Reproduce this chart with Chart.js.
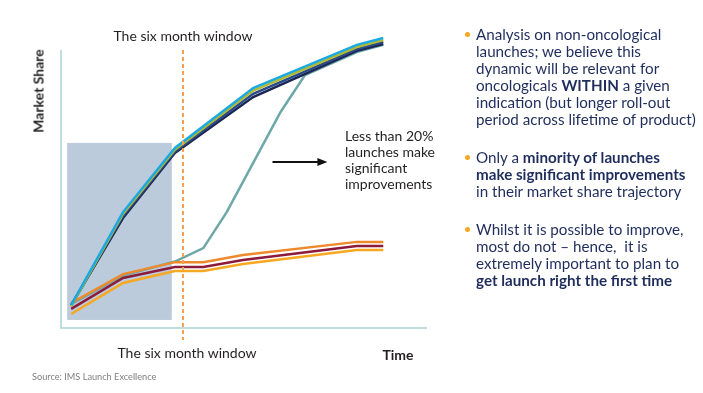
<!DOCTYPE html>
<html lang="en">
<head>
<meta charset="UTF-8">
<title>Launch trajectories</title>
<script src="https://cdn.jsdelivr.net/npm/chart.js"></script>
<style>
    body {
        margin: 0;
        background: #fff;
        font-family: Lato, 'Open Sans', sans-serif;
    }
    .wrap {
        position: relative;
        width: 703px;
        height: 393px;
    }
    canvas { position: absolute; left: 0; top: 0; }
    .lbl { position: absolute; color: #231f20; white-space: nowrap; }
    .ylab {
        left: 38px; top: 91px;
        font-weight: bold; font-size: 14px;
        transform: translate(-50%, -50%) rotate(-90deg);
    }
    .win { font-size: 14px; transform: translateX(-50%); }
    .note { left: 345px; top: 128px; font-size: 14px; line-height: 16px; }
    .time { left: 398px; top: 346px; font-weight: bold; font-size: 14px; transform: translateX(-50%); }
    .src { left: 32px; top: 371px; font-size: 9.2px; color: #808080; }
    .bullets {
        position: absolute; left: 476px; top: 26px; width: 240px;
        color: #1f2d5c; font-size: 15.2px; line-height: 17px;
        white-space: nowrap;
    }
    .bullets p { margin: 0 0 21px 0; position: relative; }
    .bullets p::before {
        content: ''; position: absolute; left: -11px; top: 6px;
        width: 5px; height: 5px; border-radius: 50%; background: #f5a623;
    }
</style>
</head>
<body>
<div class="wrap">
    <canvas id="chart" width="703" height="393"></canvas>
    <div class="lbl ylab">Market Share</div>
    <div class="lbl win" style="left:183px; top:27px;">The six month window</div>
    <div class="lbl win" style="left:187px; top:344px;">The six month window</div>
    <div class="lbl note">Less than 20%<br>launches make<br>significant<br>improvements</div>
    <div class="lbl time">Time</div>
    <div class="lbl src">Source: IMS Launch Excellence</div>
    <div class="bullets">
        <p>Analysis on non-oncological<br>launches; we believe this<br>dynamic will be relevant for<br>oncologicals <b>WITHIN</b> a given<br>indication (but longer roll-out<br>period across lifetime of product)</p>
        <p>Only a <b>minority of launches<br>make significant improvements</b><br>in their market share trajectory</p>
        <p>Whilst it is possible to improve,<br>most do not &ndash; hence,&nbsp; it is<br>extremely important to plan to<br><b>get launch right the first time</b></p>
    </div>
</div>

<script>
    // time in months, market share in arbitrary %
    const upperMonths = [0.5, 3.05, 5.6, 9.45, 14.55, 15.85];
    const cyanShare   = [7.7, 38.9, 60.4, 80.5, 95.0, 97.3];
    const oliveShare  = [7.3, 38.3, 59.8, 79.7, 94.3, 96.6];
    const blueShare   = [7.5, 37.6, 59.2, 78.6, 93.6, 96.0];
    const navyShare   = [7.7, 36.9, 58.7, 77.5, 93.0, 95.3];

    const lowerMonths  = [0.5, 3.05, 5.6, 7.0, 8.95, 14.55, 15.85];
    const orangeShare  = [8.4, 18.1, 22.1, 22.1, 24.5, 28.9, 28.9];
    const redShare     = [6.4, 16.8, 20.5, 20.5, 22.8, 27.5, 27.5];
    const goldShare    = [4.7, 15.1, 19.1, 19.1, 21.5, 26.2, 26.2];

    const tealMonths = [0.5, 3.05, 5.6, 7.0, 8.15, 10.8, 12.0, 14.55, 15.85];
    const tealShare  = [8.0, 17.6, 22.3, 26.8, 38.9, 72.5, 84.9, 92.6, 95.0];

    const windowMonths = 6;          // dashed marker
    const boxMonths = [0.3, 5.45];   // shaded early window
    const boxShare = [2.7, 62.1];
    const arrowMonths = [10.4, 13.1];
    const arrowShare = 55.7;
    const axisTopShare = 93.3;

    function pts(xs, ys) {
        return xs.map((x, i) => ({ x: x, y: ys[i] }));
    }
    function line(xs, ys, color) {
        return {
            data: pts(xs, ys),
            borderColor: color,
            borderWidth: 2.5,
            pointRadius: 0,
            tension: 0,
            fill: false
        };
    }

    const decor = {
        id: 'decor',
        beforeDatasetsDraw(chart) {
            const c = chart.ctx, xs = chart.scales.x, ys = chart.scales.y;
            c.save();
            // shaded window box
            const bx0 = xs.getPixelForValue(boxMonths[0]), bx1 = xs.getPixelForValue(boxMonths[1]);
            const by0 = ys.getPixelForValue(boxShare[1]), by1 = ys.getPixelForValue(boxShare[0]);
            c.fillStyle = '#bccbdc';
            c.fillRect(bx0, by0, bx1 - bx0, by1 - by0);
            // axes
            c.strokeStyle = '#a9d2d2';
            c.lineWidth = 1.5;
            c.beginPath();
            c.moveTo(xs.getPixelForValue(0), ys.getPixelForValue(axisTopShare));
            c.lineTo(xs.getPixelForValue(0), ys.getPixelForValue(0));
            c.lineTo(xs.getPixelForValue(xs.max), ys.getPixelForValue(0));
            c.stroke();
            c.restore();
        },
        afterDatasetsDraw(chart) {
            const c = chart.ctx, xs = chart.scales.x, ys = chart.scales.y;
            c.save();
            // dashed six month marker
            const dx = xs.getPixelForValue(windowMonths);
            c.strokeStyle = '#f4a04c';
            c.lineWidth = 2;
            c.setLineDash([4, 3]);
            c.beginPath();
            c.moveTo(dx, ys.getPixelForValue(axisTopShare));
            c.lineTo(dx, ys.getPixelForValue(0) + 12);
            c.stroke();
            c.setLineDash([]);
            // arrow
            const ax0 = xs.getPixelForValue(arrowMonths[0]), ax1 = xs.getPixelForValue(arrowMonths[1]);
            const ay = ys.getPixelForValue(arrowShare);
            c.strokeStyle = '#111';
            c.fillStyle = '#111';
            c.lineWidth = 2;
            c.beginPath();
            c.moveTo(ax0, ay);
            c.lineTo(ax1 - 8, ay);
            c.stroke();
            c.beginPath();
            c.moveTo(ax1, ay);
            c.lineTo(ax1 - 10, ay - 4);
            c.lineTo(ax1 - 10, ay + 4);
            c.closePath();
            c.fill();
            c.restore();
        }
    };

    // first dataset is painted on top
    new Chart(document.getElementById('chart'), {
        type: 'line',
        data: {
            datasets: [
                line(upperMonths, cyanShare, '#1ba9e1'),
                line(upperMonths, oliveShare, '#b3ba2e'),
                line(upperMonths, blueShare, '#2b4a8a'),
                line(upperMonths, navyShare, '#1b2654'),
                line(lowerMonths, orangeShare, '#ee8a2c'),
                line(lowerMonths, redShare, '#8c1a3a'),
                line(lowerMonths, goldShare, '#f6a821'),
                line(tealMonths, tealShare, '#6ea7a8')
            ]
        },
        options: {
            responsive: false,
            animation: false,
            layout: { padding: { left: 61, right: 276, top: 30, bottom: 65 } },
            scales: {
                x: { type: 'linear', min: 0, max: 18, display: false },
                y: { min: 0, max: 100, display: false }
            },
            plugins: {
                legend: { display: false },
                tooltip: { enabled: false }
            }
        },
        plugins: [decor]
    });
</script>
</body>
</html>
